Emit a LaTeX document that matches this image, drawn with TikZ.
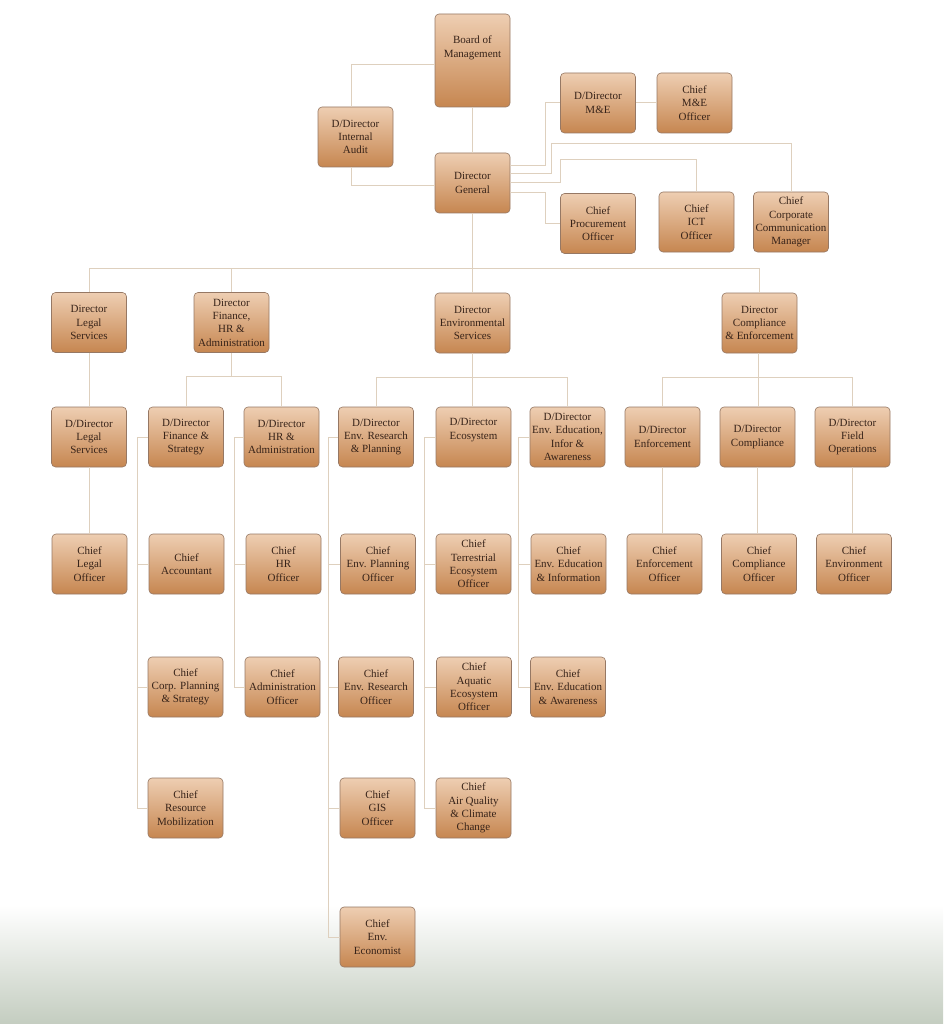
\documentclass[tikz,border=0pt]{standalone}
\usepackage{fontspec}
\setmainfont{Liberation Serif}
\definecolor{boxtop}{RGB}{238,206,178}
\definecolor{boxbot}{RGB}{198,134,80}
\definecolor{boxline}{RGB}{150,120,100}
\definecolor{linkcol}{RGB}{222,208,190}
\definecolor{textcol}{RGB}{55,35,25}
\definecolor{grass}{RGB}{196,205,192}
\tikzset{
  post/.style={draw=boxline,line width=0.6pt,rounded corners=4pt,
    top color=boxtop,bottom color=boxbot,minimum width=75pt,minimum height=60pt,
    inner sep=1pt,align=center,text=textcol,font=\fontsize{11}{13.3}\selectfont},
  link/.style={draw=linkcol,line width=1pt},
  raise/.style={text depth=#1}
}
\begin{document}
\begin{tikzpicture}[x=1pt,y=-1pt]
\useasboundingbox (0,0) rectangle (943,1024);
%grass at the bottom
\shade[top color=white,bottom color=grass] (0,905) rectangle (943,1024);
%top
\node[post,minimum height=93pt,raise=28pt] (bom) at (472.5,60.5) {Board of\\Management};
\node[post] (audit) at (355.5,137) {D/Director\\Internal\\Audit};
\node[post] (dg) at (472.5,183) {Director\\General};
\node[post] (dme) at (598,103) {D/Director\\M\&E};
\node[post] (cme) at (694.5,103) {Chief\\M\&E\\Officer};
\node[post] (cpo) at (598,223.5) {Chief\\Procurement\\Officer};
\node[post] (cict) at (696.5,222) {Chief\\ICT\\Officer};
\node[post] (ccc) at (791,222) {Chief\\Corporate\\Communication\\Manager};
%directors
\node[post] (dls) at (89,322.5) {Director\\Legal\\Services};
\node[post] (dfh) at (231.5,322.5) {Director\\Finance,\\HR \&\\Administration};
\node[post] (des) at (472.5,323) {Director\\Environmental\\Services};
\node[post] (dce) at (759.5,323) {Director\\Compliance\\\& Enforcement};
%deputy directors
\node[post] (ddls) at (89,437) {D/Director\\Legal\\Services};
\node[post] (ddfs) at (186,437) {D/Director\\Finance \&\\Strategy};
\node[post] (ddhr) at (281.5,437) {D/Director\\HR \&\\Administration};
\node[post] (dder) at (376,437) {D/Director\\Env. Research\\\& Planning};
\node[post,raise=16pt] (ddeco) at (473.5,437) {D/Director\\Ecosystem};
\node[post] (ddedu) at (567.5,437) {D/Director\\Env. Education,\\Infor \&\\Awareness};
\node[post] (ddenf) at (662.5,437) {D/Director\\Enforcement};
\node[post] (ddcom) at (757.5,437) {D/Director\\Compliance};
\node[post] (ddfo) at (852.5,437) {D/Director\\Field\\Operations};
%chiefs
\node[post] (clo) at (89.5,564) {Chief\\Legal\\Officer};
\node[post] (cacc) at (186.5,564) {Chief\\Accountant};
\node[post] (chr) at (283.5,564) {Chief\\HR\\Officer};
\node[post] (cepo) at (378,564) {Chief\\Env. Planning\\Officer};
\node[post] (cteo) at (473.5,564) {Chief\\Terrestrial\\Ecosystem\\Officer};
\node[post] (ceei) at (568.5,564) {Chief\\Env. Education\\\& Information};
\node[post] (ceo) at (664.5,564) {Chief\\Enforcement\\Officer};
\node[post] (ccomp) at (759,564) {Chief\\Compliance\\Officer};
\node[post] (cenv) at (854,564) {Chief\\Environment\\Officer};
\node[post] (ccps) at (185.5,687) {Chief\\Corp. Planning\\\& Strategy};
\node[post] (cao) at (282.5,687) {Chief\\Administration\\Officer};
\node[post] (cero) at (376,687) {Chief\\Env. Research\\Officer};
\node[post] (caeo) at (474,687) {Chief\\Aquatic\\Ecosystem\\Officer};
\node[post] (ceea) at (568,687) {Chief\\Env. Education\\\& Awareness};
\node[post] (crm) at (185.5,808) {Chief\\Resource\\Mobilization};
\node[post] (cgis) at (377.5,808) {Chief\\GIS\\Officer};
\node[post] (caq) at (473.5,808) {Chief\\Air Quality\\\& Climate\\Change};
\node[post] (cecon) at (377.5,937) {Chief\\Env.\\Economist};
%links at the top
\draw[link] ([yshift=-4.5pt]bom.west) -| ([xshift=-4.5pt]audit.north);
\draw[link] ([xshift=-4.5pt]audit.south) |- ([yshift=-3pt]dg.west);
\draw[link] (bom.south)--(dg.north);
\draw[link] ([yshift=17pt]dg.east)--++(35,0) |- (dme.west);
\draw[link] (dme.east)--(cme.west);
\draw[link] ([yshift=9pt]dg.east)--++(41,0)--++(0,-30) -| (ccc.north);
\draw[link] (dg.east)--++(50,0)--++(0,-23) -| (cict.north);
\draw[link] ([yshift=-10pt]dg.east)--++(35,0) |- (cpo.west);
%links to the directors
\draw[link] (dg.south)--(des.north);
\coordinate (bus) at (0,268);
\draw[link] (dls.north) |- (dce.north|-bus)--(dce.north);
\draw[link] (dfh.north)--(dfh.north|-bus);
\draw[link] (dls.south)--(ddls.north);
\draw[link] (ddls.south)--(ddls.south|-clo.north);
\draw[link] (dfh.south)--++(0,24)coordinate(fb);
\draw[link] (ddfs.north) |- (fb) -| (ddhr.north);
\draw[link] (des.south)--++(0,24)coordinate(eb);
\draw[link] (dder.north) |- (eb) -| (ddedu.north);
\draw[link] (eb)--(eb|-ddeco.north);
\draw[link] ([xshift=-1.5pt]dce.south)--++(0,24)coordinate(cb);
\draw[link] (ddenf.north) |- (cb) -| (ddfo.north);
\draw[link] (cb)--(cb|-ddcom.north);
%links to the chiefs
\draw[link] (ddfs.west)--++(-11,0)coordinate(fs) |- (crm.west);
\foreach \n in {cacc,ccps} \draw[link] (\n.west)--(\n.west-|fs);
\draw[link] (ddhr.west)--++(-9,0)coordinate(hs) |- (cao.west);
\draw[link] (chr.west)--(chr.west-|hs);
\draw[link] (dder.west)--++(-10,0)coordinate(rs) |- (cecon.west);
\foreach \n in {cepo,cero,cgis} \draw[link] (\n.west)--(\n.west-|rs);
\draw[link] (ddeco.west)--++(-11,0)coordinate(es) |- (caq.west);
\foreach \n in {cteo,caeo} \draw[link] (\n.west)--(\n.west-|es);
\draw[link] (ddedu.west)--++(-11,0)coordinate(us) |- (ceea.west);
\draw[link] (ceei.west)--(ceei.west-|us);
\draw[link] (ddenf.south)--(ddenf.south|-ceo.north);
\draw[link] (ddcom.south)--(ddcom.south|-ccomp.north);
\draw[link] (ddfo.south)--(ddfo.south|-cenv.north);
\end{tikzpicture}
\end{document}
